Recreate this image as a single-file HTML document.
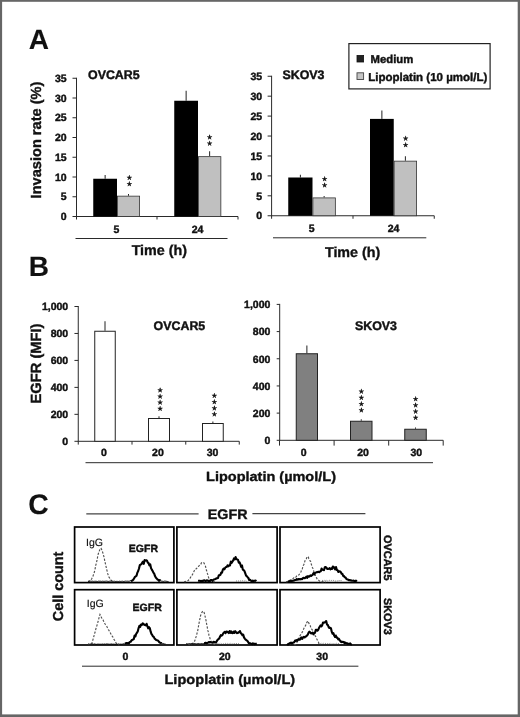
<!DOCTYPE html>
<html lang="en"><head><meta charset="utf-8"><title>Figure</title>
<style>
html,body{margin:0;padding:0;background:#fff;}
svg{display:block;}
text{text-rendering:geometricPrecision;}
</style></head><body>
<svg width="520" height="717" viewBox="0 0 520 717">
<rect x="0" y="0" width="520" height="717" fill="#fff"/>
<text x="28.7" y="49" font-size="28" text-anchor="start" font-family="Liberation Sans, sans-serif" font-weight="bold" fill="#111" stroke="#111" stroke-width="0.12" >A</text>
<text x="28.8" y="276.1" font-size="28" text-anchor="start" font-family="Liberation Sans, sans-serif" font-weight="bold" fill="#111" stroke="#111" stroke-width="0.12" >B</text>
<text x="28.2" y="514" font-size="28.3" text-anchor="start" font-family="Liberation Sans, sans-serif" font-weight="bold" fill="#111" stroke="#111" stroke-width="0.12" >C</text>
<line x1="76.5" y1="77.75" x2="76.5" y2="217.0" stroke="#2a2a2a" stroke-width="1"/>
<line x1="72.5" y1="78.25" x2="76.5" y2="78.25" stroke="#2a2a2a" stroke-width="1"/>
<text x="66.7" y="81.95" font-size="10.5" text-anchor="end" font-family="Liberation Sans, sans-serif" font-weight="bold" fill="#111" stroke="#111" stroke-width="0.42" >35</text>
<line x1="72.5" y1="98.0" x2="76.5" y2="98.0" stroke="#2a2a2a" stroke-width="1"/>
<text x="66.7" y="101.7" font-size="10.5" text-anchor="end" font-family="Liberation Sans, sans-serif" font-weight="bold" fill="#111" stroke="#111" stroke-width="0.42" >30</text>
<line x1="72.5" y1="117.75" x2="76.5" y2="117.75" stroke="#2a2a2a" stroke-width="1"/>
<text x="66.7" y="121.45" font-size="10.5" text-anchor="end" font-family="Liberation Sans, sans-serif" font-weight="bold" fill="#111" stroke="#111" stroke-width="0.42" >25</text>
<line x1="72.5" y1="137.5" x2="76.5" y2="137.5" stroke="#2a2a2a" stroke-width="1"/>
<text x="66.7" y="141.2" font-size="10.5" text-anchor="end" font-family="Liberation Sans, sans-serif" font-weight="bold" fill="#111" stroke="#111" stroke-width="0.42" >20</text>
<line x1="72.5" y1="157.25" x2="76.5" y2="157.25" stroke="#2a2a2a" stroke-width="1"/>
<text x="66.7" y="160.95" font-size="10.5" text-anchor="end" font-family="Liberation Sans, sans-serif" font-weight="bold" fill="#111" stroke="#111" stroke-width="0.42" >15</text>
<line x1="72.5" y1="177.0" x2="76.5" y2="177.0" stroke="#2a2a2a" stroke-width="1"/>
<text x="66.7" y="180.7" font-size="10.5" text-anchor="end" font-family="Liberation Sans, sans-serif" font-weight="bold" fill="#111" stroke="#111" stroke-width="0.42" >10</text>
<line x1="72.5" y1="196.75" x2="76.5" y2="196.75" stroke="#2a2a2a" stroke-width="1"/>
<text x="66.7" y="200.45" font-size="10.5" text-anchor="end" font-family="Liberation Sans, sans-serif" font-weight="bold" fill="#111" stroke="#111" stroke-width="0.42" >5</text>
<line x1="72.5" y1="216.5" x2="76.5" y2="216.5" stroke="#2a2a2a" stroke-width="1"/>
<text x="66.7" y="220.2" font-size="10.5" text-anchor="end" font-family="Liberation Sans, sans-serif" font-weight="bold" fill="#111" stroke="#111" stroke-width="0.42" >0</text>
<line x1="76.5" y1="216.5" x2="238" y2="216.5" stroke="#2a2a2a" stroke-width="1"/>
<line x1="76.5" y1="216.5" x2="76.5" y2="219.5" stroke="#2a2a2a" stroke-width="1"/>
<line x1="157" y1="216.5" x2="157" y2="219.5" stroke="#2a2a2a" stroke-width="1"/>
<line x1="238" y1="216.5" x2="238" y2="219.5" stroke="#2a2a2a" stroke-width="1"/>
<line x1="105.125" y1="175" x2="105.125" y2="178.75" stroke="#222" stroke-width="1"/>
<rect x="93.25" y="178.75" width="23.75" height="37.75" fill="#000"/>
<line x1="128.5" y1="194" x2="128.5" y2="195.75" stroke="#222" stroke-width="1"/>
<rect x="117.4" y="196.15" width="22.2" height="20.35" fill="#c0c0c0" stroke="#333" stroke-width="0.8"/>
<line x1="186.125" y1="90.75" x2="186.125" y2="100.75" stroke="#222" stroke-width="1"/>
<rect x="174.25" y="100.75" width="23.75" height="115.75" fill="#000"/>
<line x1="209.625" y1="151.25" x2="209.625" y2="156.25" stroke="#222" stroke-width="1"/>
<rect x="198.4" y="156.65" width="22.45" height="59.85" fill="#c0c0c0" stroke="#333" stroke-width="0.8"/>
<text x="88" y="78.75" font-size="12.4" text-anchor="start" font-family="Liberation Sans, sans-serif" font-weight="bold" fill="#111" stroke="#111" stroke-width="0.42" >OVCAR5</text>
<text transform="translate(129.3,179.77) rotate(0.2)" font-size="6.4" text-anchor="middle" font-family="DejaVu Sans, sans-serif" fill="#111" stroke="#111" stroke-width="0.35" stroke-linejoin="round">★</text>
<text transform="translate(129.3,186.02) rotate(0.2)" font-size="6.4" text-anchor="middle" font-family="DejaVu Sans, sans-serif" fill="#111" stroke="#111" stroke-width="0.35" stroke-linejoin="round">★</text>
<text transform="translate(209.6,139.27) rotate(0.2)" font-size="6.4" text-anchor="middle" font-family="DejaVu Sans, sans-serif" fill="#111" stroke="#111" stroke-width="0.35" stroke-linejoin="round">★</text>
<text transform="translate(209.6,145.52) rotate(0.2)" font-size="6.4" text-anchor="middle" font-family="DejaVu Sans, sans-serif" fill="#111" stroke="#111" stroke-width="0.35" stroke-linejoin="round">★</text>
<text x="116.5" y="232.5" font-size="10.5" text-anchor="middle" font-family="Liberation Sans, sans-serif" font-weight="bold" fill="#111" stroke="#111" stroke-width="0.42" >5</text>
<text x="197.5" y="232.5" font-size="10.5" text-anchor="middle" font-family="Liberation Sans, sans-serif" font-weight="bold" fill="#111" stroke="#111" stroke-width="0.42" >24</text>
<line x1="75.5" y1="238.5" x2="227.5" y2="238.5" stroke="#2a2a2a" stroke-width="1"/>
<text x="159.3" y="255.3" font-size="14.3" text-anchor="middle" font-family="Liberation Sans, sans-serif" font-weight="bold" fill="#111" stroke="#111" stroke-width="0.36" >Time (h)</text>
<text transform="translate(40.5,140) rotate(-90)" font-size="14.6" text-anchor="middle" font-family="Liberation Sans, sans-serif" font-weight="bold" fill="#111" stroke="#111" stroke-width="0.36">Invasion rate (%)</text>
<line x1="271.6" y1="75.75" x2="271.6" y2="216.25" stroke="#2a2a2a" stroke-width="1"/>
<line x1="267.6" y1="76.25" x2="271.6" y2="76.25" stroke="#2a2a2a" stroke-width="1"/>
<text x="262.2" y="79.95" font-size="10.5" text-anchor="end" font-family="Liberation Sans, sans-serif" font-weight="bold" fill="#111" stroke="#111" stroke-width="0.42" >35</text>
<line x1="267.6" y1="96.17857142857143" x2="271.6" y2="96.17857142857143" stroke="#2a2a2a" stroke-width="1"/>
<text x="262.2" y="99.88" font-size="10.5" text-anchor="end" font-family="Liberation Sans, sans-serif" font-weight="bold" fill="#111" stroke="#111" stroke-width="0.42" >30</text>
<line x1="267.6" y1="116.10714285714286" x2="271.6" y2="116.10714285714286" stroke="#2a2a2a" stroke-width="1"/>
<text x="262.2" y="119.81" font-size="10.5" text-anchor="end" font-family="Liberation Sans, sans-serif" font-weight="bold" fill="#111" stroke="#111" stroke-width="0.42" >25</text>
<line x1="267.6" y1="136.03571428571428" x2="271.6" y2="136.03571428571428" stroke="#2a2a2a" stroke-width="1"/>
<text x="262.2" y="139.74" font-size="10.5" text-anchor="end" font-family="Liberation Sans, sans-serif" font-weight="bold" fill="#111" stroke="#111" stroke-width="0.42" >20</text>
<line x1="267.6" y1="155.96428571428572" x2="271.6" y2="155.96428571428572" stroke="#2a2a2a" stroke-width="1"/>
<text x="262.2" y="159.66" font-size="10.5" text-anchor="end" font-family="Liberation Sans, sans-serif" font-weight="bold" fill="#111" stroke="#111" stroke-width="0.42" >15</text>
<line x1="267.6" y1="175.89285714285714" x2="271.6" y2="175.89285714285714" stroke="#2a2a2a" stroke-width="1"/>
<text x="262.2" y="179.59" font-size="10.5" text-anchor="end" font-family="Liberation Sans, sans-serif" font-weight="bold" fill="#111" stroke="#111" stroke-width="0.42" >10</text>
<line x1="267.6" y1="195.82142857142856" x2="271.6" y2="195.82142857142856" stroke="#2a2a2a" stroke-width="1"/>
<text x="262.2" y="199.52" font-size="10.5" text-anchor="end" font-family="Liberation Sans, sans-serif" font-weight="bold" fill="#111" stroke="#111" stroke-width="0.42" >5</text>
<line x1="267.6" y1="215.75" x2="271.6" y2="215.75" stroke="#2a2a2a" stroke-width="1"/>
<text x="262.2" y="219.45" font-size="10.5" text-anchor="end" font-family="Liberation Sans, sans-serif" font-weight="bold" fill="#111" stroke="#111" stroke-width="0.42" >0</text>
<line x1="271.6" y1="215.75" x2="434.25" y2="215.75" stroke="#2a2a2a" stroke-width="1"/>
<line x1="271.6" y1="215.75" x2="271.6" y2="218.75" stroke="#2a2a2a" stroke-width="1"/>
<line x1="353" y1="215.75" x2="353" y2="218.75" stroke="#2a2a2a" stroke-width="1"/>
<line x1="434.25" y1="215.75" x2="434.25" y2="218.75" stroke="#2a2a2a" stroke-width="1"/>
<line x1="300.375" y1="174.75" x2="300.375" y2="177.5" stroke="#222" stroke-width="1"/>
<rect x="288.25" y="177.5" width="24.25" height="38.25" fill="#000"/>
<line x1="324.125" y1="196" x2="324.125" y2="197.5" stroke="#222" stroke-width="1"/>
<rect x="312.9" y="197.9" width="22.45" height="17.85" fill="#c0c0c0" stroke="#333" stroke-width="0.8"/>
<line x1="381.875" y1="110.5" x2="381.875" y2="118.9" stroke="#222" stroke-width="1"/>
<rect x="370" y="118.9" width="23.75" height="96.85" fill="#000"/>
<line x1="405.375" y1="156.25" x2="405.375" y2="160.75" stroke="#222" stroke-width="1"/>
<rect x="394.15" y="161.15" width="22.45" height="54.6" fill="#c0c0c0" stroke="#333" stroke-width="0.8"/>
<text x="282.5" y="78.75" font-size="12.4" text-anchor="start" font-family="Liberation Sans, sans-serif" font-weight="bold" fill="#111" stroke="#111" stroke-width="0.42" >SKOV3</text>
<text transform="translate(324.6,181.02) rotate(0.2)" font-size="6.4" text-anchor="middle" font-family="DejaVu Sans, sans-serif" fill="#111" stroke="#111" stroke-width="0.35" stroke-linejoin="round">★</text>
<text transform="translate(324.6,187.27) rotate(0.2)" font-size="6.4" text-anchor="middle" font-family="DejaVu Sans, sans-serif" fill="#111" stroke="#111" stroke-width="0.35" stroke-linejoin="round">★</text>
<text transform="translate(405.6,140.52) rotate(0.2)" font-size="6.4" text-anchor="middle" font-family="DejaVu Sans, sans-serif" fill="#111" stroke="#111" stroke-width="0.35" stroke-linejoin="round">★</text>
<text transform="translate(405.6,147.02) rotate(0.2)" font-size="6.4" text-anchor="middle" font-family="DejaVu Sans, sans-serif" fill="#111" stroke="#111" stroke-width="0.35" stroke-linejoin="round">★</text>
<text x="311.75" y="232.4" font-size="10.5" text-anchor="middle" font-family="Liberation Sans, sans-serif" font-weight="bold" fill="#111" stroke="#111" stroke-width="0.42" >5</text>
<text x="393.5" y="232.4" font-size="10.5" text-anchor="middle" font-family="Liberation Sans, sans-serif" font-weight="bold" fill="#111" stroke="#111" stroke-width="0.42" >24</text>
<line x1="273" y1="237.8" x2="426.3" y2="237.8" stroke="#2a2a2a" stroke-width="1"/>
<text x="352.6" y="257" font-size="14.3" text-anchor="middle" font-family="Liberation Sans, sans-serif" font-weight="bold" fill="#111" stroke="#111" stroke-width="0.36" >Time (h)</text>
<rect x="348.9" y="43.6" width="141.2" height="45.3" fill="#fff" stroke="#222" stroke-width="1.2"/>
<rect x="357" y="55.4" width="6.6" height="6.6" fill="#222" stroke="#111" stroke-width="0.8"/>
<rect x="357" y="72.8" width="6.6" height="6.7" fill="#c4c4c4" stroke="#444" stroke-width="0.9"/>
<text x="370.6" y="62.5" font-size="11.3" text-anchor="start" font-family="Liberation Sans, sans-serif" font-weight="bold" fill="#111" stroke="#111" stroke-width="0.42" >Medium</text>
<text x="368.2" y="80.8" font-size="11.5" text-anchor="start" font-family="Liberation Sans, sans-serif" font-weight="bold" fill="#111" stroke="#111" stroke-width="0.42" >Lipoplatin (10 µmol/L)</text>
<line x1="78.25" y1="306.0" x2="78.25" y2="441.8" stroke="#2a2a2a" stroke-width="1"/>
<line x1="74.45" y1="306.5" x2="78.25" y2="306.5" stroke="#2a2a2a" stroke-width="1"/>
<text x="68.2" y="310.3" font-size="10.5" text-anchor="end" font-family="Liberation Sans, sans-serif" font-weight="bold" fill="#111" stroke="#111" stroke-width="0.42" >1,000</text>
<line x1="74.45" y1="333.46" x2="78.25" y2="333.46" stroke="#2a2a2a" stroke-width="1"/>
<text x="68.2" y="337.26" font-size="10.5" text-anchor="end" font-family="Liberation Sans, sans-serif" font-weight="bold" fill="#111" stroke="#111" stroke-width="0.42" >800</text>
<line x1="74.45" y1="360.42" x2="78.25" y2="360.42" stroke="#2a2a2a" stroke-width="1"/>
<text x="68.2" y="364.22" font-size="10.5" text-anchor="end" font-family="Liberation Sans, sans-serif" font-weight="bold" fill="#111" stroke="#111" stroke-width="0.42" >600</text>
<line x1="74.45" y1="387.38" x2="78.25" y2="387.38" stroke="#2a2a2a" stroke-width="1"/>
<text x="68.2" y="391.18" font-size="10.5" text-anchor="end" font-family="Liberation Sans, sans-serif" font-weight="bold" fill="#111" stroke="#111" stroke-width="0.42" >400</text>
<line x1="74.45" y1="414.34000000000003" x2="78.25" y2="414.34000000000003" stroke="#2a2a2a" stroke-width="1"/>
<text x="68.2" y="418.14" font-size="10.5" text-anchor="end" font-family="Liberation Sans, sans-serif" font-weight="bold" fill="#111" stroke="#111" stroke-width="0.42" >200</text>
<line x1="74.45" y1="441.3" x2="78.25" y2="441.3" stroke="#2a2a2a" stroke-width="1"/>
<text x="68.2" y="445.1" font-size="10.5" text-anchor="end" font-family="Liberation Sans, sans-serif" font-weight="bold" fill="#111" stroke="#111" stroke-width="0.42" >0</text>
<line x1="78.25" y1="441.3" x2="239.25" y2="441.3" stroke="#2a2a2a" stroke-width="1"/>
<line x1="78.25" y1="441.3" x2="78.25" y2="444.6" stroke="#2a2a2a" stroke-width="1"/>
<line x1="132" y1="441.3" x2="132" y2="444.6" stroke="#2a2a2a" stroke-width="1"/>
<line x1="185.75" y1="441.3" x2="185.75" y2="444.6" stroke="#2a2a2a" stroke-width="1"/>
<line x1="239.25" y1="441.3" x2="239.25" y2="444.6" stroke="#2a2a2a" stroke-width="1"/>
<line x1="105.0" y1="321.25" x2="105.0" y2="330.75" stroke="#222" stroke-width="1"/>
<rect x="94.75" y="331.25" width="20.5" height="110.05000000000001" fill="#fff" stroke="#222" stroke-width="1"/>
<line x1="159.0" y1="416.3" x2="159.0" y2="418" stroke="#222" stroke-width="1"/>
<rect x="148.5" y="418.5" width="21" height="22.80000000000001" fill="#fff" stroke="#222" stroke-width="1"/>
<line x1="212.875" y1="421.5" x2="212.875" y2="423" stroke="#222" stroke-width="1"/>
<rect x="202.5" y="423.5" width="20.75" height="17.80000000000001" fill="#fff" stroke="#222" stroke-width="1"/>
<text x="153.6" y="330" font-size="12.4" text-anchor="start" font-family="Liberation Sans, sans-serif" font-weight="bold" fill="#111" stroke="#111" stroke-width="0.42" >OVCAR5</text>
<text transform="translate(160,392.27) rotate(0.2)" font-size="6.4" text-anchor="middle" font-family="DejaVu Sans, sans-serif" fill="#111" stroke="#111" stroke-width="0.35" stroke-linejoin="round">★</text>
<text transform="translate(160,398.47) rotate(0.2)" font-size="6.4" text-anchor="middle" font-family="DejaVu Sans, sans-serif" fill="#111" stroke="#111" stroke-width="0.35" stroke-linejoin="round">★</text>
<text transform="translate(160,404.57) rotate(0.2)" font-size="6.4" text-anchor="middle" font-family="DejaVu Sans, sans-serif" fill="#111" stroke="#111" stroke-width="0.35" stroke-linejoin="round">★</text>
<text transform="translate(160,410.67) rotate(0.2)" font-size="6.4" text-anchor="middle" font-family="DejaVu Sans, sans-serif" fill="#111" stroke="#111" stroke-width="0.35" stroke-linejoin="round">★</text>
<text transform="translate(214.3,397.77) rotate(0.2)" font-size="6.4" text-anchor="middle" font-family="DejaVu Sans, sans-serif" fill="#111" stroke="#111" stroke-width="0.35" stroke-linejoin="round">★</text>
<text transform="translate(214.3,403.97) rotate(0.2)" font-size="6.4" text-anchor="middle" font-family="DejaVu Sans, sans-serif" fill="#111" stroke="#111" stroke-width="0.35" stroke-linejoin="round">★</text>
<text transform="translate(214.3,410.17) rotate(0.2)" font-size="6.4" text-anchor="middle" font-family="DejaVu Sans, sans-serif" fill="#111" stroke="#111" stroke-width="0.35" stroke-linejoin="round">★</text>
<text transform="translate(214.3,416.27) rotate(0.2)" font-size="6.4" text-anchor="middle" font-family="DejaVu Sans, sans-serif" fill="#111" stroke="#111" stroke-width="0.35" stroke-linejoin="round">★</text>
<text x="104" y="456" font-size="10.5" text-anchor="middle" font-family="Liberation Sans, sans-serif" font-weight="bold" fill="#111" stroke="#111" stroke-width="0.42" >0</text>
<text x="157.9" y="456" font-size="10.5" text-anchor="middle" font-family="Liberation Sans, sans-serif" font-weight="bold" fill="#111" stroke="#111" stroke-width="0.42" >20</text>
<text x="212.6" y="456" font-size="10.5" text-anchor="middle" font-family="Liberation Sans, sans-serif" font-weight="bold" fill="#111" stroke="#111" stroke-width="0.42" >30</text>
<text transform="translate(40.9,363.5) rotate(-90)" font-size="14.7" text-anchor="middle" font-family="Liberation Sans, sans-serif" font-weight="bold" fill="#111" stroke="#111" stroke-width="0.36">EGFR (MFI)</text>
<line x1="279.7" y1="303.9" x2="279.7" y2="440.8" stroke="#2a2a2a" stroke-width="1"/>
<line x1="276.7" y1="304.4" x2="279.7" y2="304.4" stroke="#2a2a2a" stroke-width="1"/>
<text x="270.4" y="308.2" font-size="10.5" text-anchor="end" font-family="Liberation Sans, sans-serif" font-weight="bold" fill="#111" stroke="#111" stroke-width="0.42" >1,000</text>
<line x1="276.7" y1="331.58" x2="279.7" y2="331.58" stroke="#2a2a2a" stroke-width="1"/>
<text x="270.4" y="335.38" font-size="10.5" text-anchor="end" font-family="Liberation Sans, sans-serif" font-weight="bold" fill="#111" stroke="#111" stroke-width="0.42" >800</text>
<line x1="276.7" y1="358.76" x2="279.7" y2="358.76" stroke="#2a2a2a" stroke-width="1"/>
<text x="270.4" y="362.56" font-size="10.5" text-anchor="end" font-family="Liberation Sans, sans-serif" font-weight="bold" fill="#111" stroke="#111" stroke-width="0.42" >600</text>
<line x1="276.7" y1="385.94" x2="279.7" y2="385.94" stroke="#2a2a2a" stroke-width="1"/>
<text x="270.4" y="389.74" font-size="10.5" text-anchor="end" font-family="Liberation Sans, sans-serif" font-weight="bold" fill="#111" stroke="#111" stroke-width="0.42" >400</text>
<line x1="276.7" y1="413.12" x2="279.7" y2="413.12" stroke="#2a2a2a" stroke-width="1"/>
<text x="270.4" y="416.92" font-size="10.5" text-anchor="end" font-family="Liberation Sans, sans-serif" font-weight="bold" fill="#111" stroke="#111" stroke-width="0.42" >200</text>
<line x1="276.7" y1="440.3" x2="279.7" y2="440.3" stroke="#2a2a2a" stroke-width="1"/>
<text x="270.4" y="444.1" font-size="10.5" text-anchor="end" font-family="Liberation Sans, sans-serif" font-weight="bold" fill="#111" stroke="#111" stroke-width="0.42" >0</text>
<line x1="279.7" y1="440.3" x2="443.2" y2="440.3" stroke="#2a2a2a" stroke-width="1"/>
<line x1="279.5" y1="440.3" x2="279.5" y2="445.6" stroke="#2a2a2a" stroke-width="1"/>
<line x1="334.1" y1="440.3" x2="334.1" y2="445.6" stroke="#2a2a2a" stroke-width="1"/>
<line x1="388.7" y1="440.3" x2="388.7" y2="445.6" stroke="#2a2a2a" stroke-width="1"/>
<line x1="443.2" y1="440.3" x2="443.2" y2="445.6" stroke="#2a2a2a" stroke-width="1"/>
<line x1="306.875" y1="345.5" x2="306.875" y2="353.25" stroke="#222" stroke-width="1"/>
<rect x="296.25" y="353.75" width="21.25" height="86.55000000000001" fill="#808080" stroke="#222" stroke-width="1"/>
<line x1="361.25" y1="419.3" x2="361.25" y2="420.75" stroke="#222" stroke-width="1"/>
<rect x="350.5" y="421.25" width="21.5" height="19.05000000000001" fill="#808080" stroke="#222" stroke-width="1"/>
<line x1="415.5" y1="427.5" x2="415.5" y2="428.75" stroke="#222" stroke-width="1"/>
<rect x="404.75" y="429.25" width="21.5" height="11.050000000000011" fill="#808080" stroke="#222" stroke-width="1"/>
<text x="355" y="330" font-size="12.4" text-anchor="start" font-family="Liberation Sans, sans-serif" font-weight="bold" fill="#111" stroke="#111" stroke-width="0.42" >SKOV3</text>
<text transform="translate(361.3,393.52) rotate(0.2)" font-size="6.4" text-anchor="middle" font-family="DejaVu Sans, sans-serif" fill="#111" stroke="#111" stroke-width="0.35" stroke-linejoin="round">★</text>
<text transform="translate(361.3,399.77) rotate(0.2)" font-size="6.4" text-anchor="middle" font-family="DejaVu Sans, sans-serif" fill="#111" stroke="#111" stroke-width="0.35" stroke-linejoin="round">★</text>
<text transform="translate(361.3,406.02) rotate(0.2)" font-size="6.4" text-anchor="middle" font-family="DejaVu Sans, sans-serif" fill="#111" stroke="#111" stroke-width="0.35" stroke-linejoin="round">★</text>
<text transform="translate(361.3,412.27) rotate(0.2)" font-size="6.4" text-anchor="middle" font-family="DejaVu Sans, sans-serif" fill="#111" stroke="#111" stroke-width="0.35" stroke-linejoin="round">★</text>
<text transform="translate(415.6,401.02) rotate(0.2)" font-size="6.4" text-anchor="middle" font-family="DejaVu Sans, sans-serif" fill="#111" stroke="#111" stroke-width="0.35" stroke-linejoin="round">★</text>
<text transform="translate(415.6,407.27) rotate(0.2)" font-size="6.4" text-anchor="middle" font-family="DejaVu Sans, sans-serif" fill="#111" stroke="#111" stroke-width="0.35" stroke-linejoin="round">★</text>
<text transform="translate(415.6,413.52) rotate(0.2)" font-size="6.4" text-anchor="middle" font-family="DejaVu Sans, sans-serif" fill="#111" stroke="#111" stroke-width="0.35" stroke-linejoin="round">★</text>
<text transform="translate(415.6,419.77) rotate(0.2)" font-size="6.4" text-anchor="middle" font-family="DejaVu Sans, sans-serif" fill="#111" stroke="#111" stroke-width="0.35" stroke-linejoin="round">★</text>
<text x="303.7" y="455.8" font-size="10.5" text-anchor="middle" font-family="Liberation Sans, sans-serif" font-weight="bold" fill="#111" stroke="#111" stroke-width="0.42" >0</text>
<text x="363" y="455.8" font-size="10.5" text-anchor="middle" font-family="Liberation Sans, sans-serif" font-weight="bold" fill="#111" stroke="#111" stroke-width="0.42" >20</text>
<text x="416.3" y="455.8" font-size="10.5" text-anchor="middle" font-family="Liberation Sans, sans-serif" font-weight="bold" fill="#111" stroke="#111" stroke-width="0.42" >30</text>
<line x1="85.5" y1="462.7" x2="433" y2="462.7" stroke="#2a2a2a" stroke-width="1"/>
<text transform="translate(271,481.2) scale(1.09,1)" font-size="13.3" text-anchor="middle" font-family="Liberation Sans, sans-serif" font-weight="bold" fill="#111" stroke="#111" stroke-width="0.36" >Lipoplatin (µmol/L)</text>
<line x1="86.3" y1="513.9" x2="198.6" y2="513.9" stroke="#444" stroke-width="1.2"/>
<line x1="252.4" y1="513.6" x2="365.4" y2="513.6" stroke="#444" stroke-width="1.2"/>
<text transform="translate(227.7,518.7) scale(1.03,1)" font-size="13.9" text-anchor="middle" font-family="Liberation Sans, sans-serif" font-weight="bold" fill="#111" stroke="#111" stroke-width="0.36" >EGFR</text>
<text transform="translate(62.6,586.4) rotate(-90)" font-size="14.4" text-anchor="middle" font-family="Liberation Sans, sans-serif" font-weight="bold" fill="#111" stroke="#111" stroke-width="0.36">Cell count</text>
<rect x="74.6" y="527.0" width="99.3" height="55.59999999999993" fill="#fff" stroke="#000" stroke-width="1.7"/>
<rect x="176.9" y="527.0" width="100.19999999999999" height="55.59999999999993" fill="#fff" stroke="#000" stroke-width="1.7"/>
<rect x="280.0" y="527.0" width="100.1" height="55.59999999999993" fill="#fff" stroke="#000" stroke-width="1.7"/>
<rect x="74.6" y="589.6999999999999" width="99.3" height="55.299999999999976" fill="#fff" stroke="#000" stroke-width="1.7"/>
<rect x="176.9" y="589.6999999999999" width="100.19999999999999" height="55.299999999999976" fill="#fff" stroke="#000" stroke-width="1.7"/>
<rect x="280.0" y="589.6999999999999" width="100.1" height="55.299999999999976" fill="#fff" stroke="#000" stroke-width="1.7"/>
<polyline points="88.0,581.5 88.6,581.4 89.2,581.0 89.8,580.9 90.4,580.2 91.0,579.7 91.6,579.0 92.2,577.7 92.8,576.7 93.4,574.9 94.0,573.3 94.6,571.1 95.2,568.3 95.8,565.2 96.4,563.1 97.0,560.2 97.6,557.0 98.2,554.1 98.8,552.3 99.4,550.7 100.0,548.9 100.6,549.3 101.2,548.6 101.8,549.9 102.4,551.5 103.0,553.4 103.6,555.6 104.2,557.7 104.8,561.2 105.4,563.6 106.0,566.3 106.6,569.2 107.2,571.4 107.8,573.9 108.4,575.7 109.0,577.1 109.6,578.0 110.2,579.1 110.8,579.9 111.4,580.4 112.0,580.9 112.6,581.2 113.2,581.3 113.8,581.5" fill="none" stroke="#505050" stroke-width="1.15" stroke-dasharray="2.2,1.5"/>
<polyline points="88.0,581.4 88.8,581.3 89.6,581.3 90.4,581.2 91.2,581.2 92.0,581.4 92.8,581.1 93.6,581.4 94.4,581.3 95.2,581.2 96.0,581.4 96.8,581.3 97.6,581.5 98.4,581.2 99.2,581.2 100.0,581.3 100.8,581.2 101.6,581.4 102.4,581.2 103.2,581.3 104.0,581.3 104.8,581.3 105.6,581.2 106.4,581.1 107.2,581.3 108.0,581.2 108.8,581.5 109.6,581.2 110.4,581.2 111.2,581.1 112.0,581.2 112.8,581.4 113.6,581.3 114.4,581.2 115.2,581.5 116.0,581.3 116.8,581.4 117.6,581.4 118.4,581.5 119.2,581.2 120.0,581.4 120.8,581.4 121.6,581.3 122.4,581.2 123.2,581.5 124.0,581.3 124.8,581.3 125.6,581.1 126.4,581.2 127.2,581.1 128.0,581.3 128.8,581.2 129.6,581.1 130.4,580.7 131.2,580.4" fill="none" stroke="#000" stroke-width="0.9" stroke-linejoin="round"/>
<polyline points="131.0,581.2 131.8,580.8 132.6,580.3 133.4,579.6 134.2,578.2 135.0,576.8 135.8,576.3 136.6,575.6 137.4,572.6 138.2,571.0 139.0,568.5 139.8,565.2 140.6,564.7 141.4,564.2 142.2,562.7 143.0,561.7 143.8,563.8 144.6,560.1 145.4,560.6 146.2,560.2 147.0,560.6 147.8,562.6 148.6,563.2 149.4,565.3 150.2,564.3 151.0,568.0 151.8,569.6 152.6,570.8 153.4,572.7 154.2,573.7 155.0,576.1 155.8,577.6 156.6,578.4 157.4,579.4 158.2,579.7 159.0,580.8 159.8,580.0 160.6,580.7" fill="none" stroke="#000" stroke-width="2.1" stroke-linejoin="round"/>
<polyline points="160.5,581.0 161.3,581.1 162.1,581.2 162.9,581.3 163.7,581.4 164.5,581.1 165.3,581.1 166.1,581.3 166.9,581.3 167.7,581.5 168.5,581.5" fill="none" stroke="#000" stroke-width="0.9" stroke-linejoin="round"/>
<text x="86" y="545.5" font-size="10.5" text-anchor="start" font-family="Liberation Sans, sans-serif" fill="#111" stroke="#111" stroke-width="0.15">IgG</text>
<text x="128.8" y="552" font-size="10.5" text-anchor="start" font-family="Liberation Sans, sans-serif" font-weight="bold" fill="#111" stroke="#111" stroke-width="0.42" >EGFR</text>
<polyline points="184.0,581.8 184.6,581.7 185.2,581.4 185.8,581.6 186.4,581.5 187.0,580.9 187.6,580.7 188.2,580.5 188.8,579.8 189.4,579.5 190.0,578.4 190.6,577.3 191.2,576.3 191.8,575.4 192.4,574.6 193.0,573.4 193.6,572.5 194.2,570.7 194.8,570.1 195.4,569.0 196.0,568.9 196.6,568.6 197.2,567.3 197.8,566.7 198.4,566.4 199.0,565.9 199.6,565.1 200.2,564.4 200.8,564.2 201.4,562.9 202.0,562.4 202.6,562.4 203.2,562.5 203.8,562.8 204.4,563.9 205.0,565.0 205.6,566.6 206.2,569.5 206.8,571.2 207.4,573.4 208.0,575.4 208.6,577.5 209.2,578.9 209.8,579.9 210.4,580.6 211.0,581.1 211.6,581.3 212.2,581.4 212.8,581.5 213.4,581.7 214.0,581.7 214.6,581.7 215.2,581.8 215.8,581.7" fill="none" stroke="#505050" stroke-width="1.15" stroke-dasharray="2.2,1.5"/>
<polyline points="198.0,580.7 198.8,580.8 199.6,580.8 200.4,581.1 201.2,581.4 202.0,580.7 202.8,581.2 203.6,580.6 204.4,580.3 205.2,581.0 206.0,580.9 206.8,580.2 207.6,580.4 208.4,581.1 209.2,581.1 210.0,581.0 210.8,580.0 211.6,580.0 212.4,580.9 213.2,579.9 214.0,579.5 214.8,579.3 215.6,579.1 216.4,578.2 217.2,578.3 218.0,578.0 218.8,575.2 219.6,575.2 220.4,574.8 221.2,572.6 222.0,572.7 222.8,569.8 223.6,568.5 224.4,569.3 225.2,567.7 226.0,567.0 226.8,566.9 227.6,565.3 228.4,566.3 229.2,565.3 230.0,565.5 230.8,561.6 231.6,562.8 232.4,561.6 233.2,560.4 234.0,558.4 234.8,559.5 235.6,557.1 236.4,559.1 237.2,559.4 238.0,559.9 238.8,562.8 239.6,562.3 240.4,564.4 241.2,566.8 242.0,565.5 242.8,569.6 243.6,570.1 244.4,570.9 245.2,573.2 246.0,575.4 246.8,576.2 247.6,577.2 248.4,578.0 249.2,580.0 250.0,579.7 250.8,580.6 251.6,581.0 252.4,580.6 253.2,581.0 254.0,580.9 254.8,580.8 255.6,580.6 256.4,581.2" fill="none" stroke="#000" stroke-width="2.1" stroke-linejoin="round"/>
<polyline points="236.0,580.9 236.7,581.0 237.4,581.0 238.1,580.9 238.8,581.0 239.5,581.0 240.2,581.0 240.9,580.7 241.6,580.9 242.3,580.8 243.0,580.7 243.7,581.1 244.4,581.0 245.1,580.7 245.8,580.8 246.5,581.2" fill="none" stroke="#444" stroke-width="0.7" stroke-dasharray="1,1"/>
<polyline points="286.0,581.8 286.6,581.6 287.2,581.6 287.8,581.4 288.4,581.3 289.0,580.9 289.6,580.6 290.2,580.2 290.8,580.2 291.4,579.6 292.0,579.2 292.6,579.1 293.2,578.3 293.8,577.8 294.4,577.9 295.0,577.1 295.6,577.1 296.2,576.7 296.8,576.0 297.4,575.8 298.0,575.9 298.6,575.2 299.2,574.4 299.8,573.8 300.4,573.0 301.0,571.7 301.6,569.8 302.2,569.3 302.8,566.9 303.4,565.3 304.0,564.2 304.6,562.1 305.2,560.2 305.8,559.1 306.4,558.7 307.0,556.8 307.6,556.9 308.2,556.8 308.8,558.5 309.4,559.2 310.0,560.8 310.6,561.3 311.2,563.8 311.8,565.8 312.4,567.4 313.0,568.6 313.6,570.6 314.2,573.0 314.8,574.7 315.4,575.4 316.0,576.9 316.6,577.9 317.2,579.1 317.8,579.8 318.4,580.1 319.0,580.6 319.6,581.1 320.2,581.0 320.8,581.3 321.4,581.4 322.0,581.8 322.6,581.5 323.2,581.8 323.8,581.6 324.4,581.8 325.0,581.8 325.6,581.8" fill="none" stroke="#505050" stroke-width="1.15" stroke-dasharray="2.2,1.5"/>
<polyline points="288.0,580.8 288.8,581.3 289.6,581.3 290.4,580.7 291.2,580.9 292.0,580.9 292.8,580.7 293.6,580.7 294.4,580.3 295.2,580.0 296.0,579.9 296.8,579.1 297.6,579.6 298.4,579.1 299.2,579.4 300.0,579.0 300.8,579.4 301.6,578.9 302.4,579.1 303.2,577.7 304.0,577.9 304.8,578.3 305.6,577.6 306.4,576.5 307.2,577.8 308.0,576.2 308.8,576.8 309.6,576.4 310.4,575.4 311.2,575.9 312.0,575.2 312.8,574.4 313.6,573.2 314.4,574.4 315.2,572.7 316.0,572.5 316.8,572.1 317.6,572.1 318.4,571.7 319.2,572.2 320.0,571.5 320.8,571.3 321.6,568.5 322.4,569.8 323.2,570.0 324.0,570.1 324.8,567.3 325.6,567.0 326.4,567.6 327.2,568.9 328.0,569.0 328.8,568.8 329.6,568.2 330.4,569.3 331.2,568.3 332.0,569.0 332.8,566.6 333.6,566.7 334.4,568.3 335.2,569.5 336.0,567.1 336.8,569.9 337.6,570.2 338.4,572.0 339.2,571.2 340.0,571.4 340.8,572.1 341.6,573.8 342.4,573.8 343.2,575.9 344.0,576.1 344.8,577.3 345.6,577.5 346.4,578.9 347.2,579.4 348.0,579.6 348.8,580.2 349.6,580.1 350.4,580.4 351.2,580.4 352.0,580.7 352.8,580.7 353.6,580.6 354.4,581.2 355.2,581.3 356.0,580.6 356.8,581.6" fill="none" stroke="#000" stroke-width="2.1" stroke-linejoin="round"/>
<polyline points="322.0,580.4 322.7,580.5 323.4,581.0 324.1,580.3 324.8,580.3 325.5,580.5 326.2,580.4 326.9,580.3 327.6,580.9 328.3,580.6 329.0,580.6 329.7,580.3 330.4,580.4 331.1,580.3 331.8,580.5 332.5,580.3 333.2,580.5 333.9,580.4 334.6,580.8 335.3,581.0 336.0,580.9 336.7,580.7 337.4,580.9 338.1,580.3 338.8,580.6 339.5,580.5 340.2,580.5 340.9,580.5 341.6,580.6" fill="none" stroke="#444" stroke-width="0.7" stroke-dasharray="1,1"/>
<polyline points="88.0,644.6 88.6,644.5 89.2,644.5 89.8,644.6 90.4,644.6 91.0,644.6 91.6,644.3 92.2,642.1 92.8,640.1 93.4,638.1 94.0,635.9 94.6,633.5 95.2,631.8 95.8,629.2 96.4,626.9 97.0,625.2 97.6,623.2 98.2,621.0 98.8,618.7 99.4,616.5 100.0,614.5 100.6,615.5 101.2,617.1 101.8,618.1 102.4,619.0 103.0,619.7 103.6,621.1 104.2,622.0 104.8,623.5 105.4,624.5 106.0,625.4 106.6,626.1 107.2,627.2 107.8,628.2 108.4,629.6 109.0,630.5 109.6,631.6 110.2,632.6 110.8,633.9 111.4,634.4 112.0,636.0 112.6,636.5 113.2,637.7 113.8,639.2 114.4,640.0 115.0,640.9 115.6,642.0 116.2,643.2 116.8,644.3 117.4,644.6 118.0,644.5 118.6,644.6 119.2,644.6 119.8,644.6" fill="none" stroke="#505050" stroke-width="1.15" stroke-dasharray="2.2,1.5"/>
<polyline points="88.0,644.1 88.8,643.9 89.6,644.2 90.4,644.0 91.2,644.1 92.0,643.9 92.8,644.0 93.6,644.2 94.4,643.9 95.2,644.1 96.0,644.3 96.8,644.3 97.6,644.1 98.4,644.1 99.2,644.2 100.0,644.2 100.8,644.2 101.6,644.2 102.4,644.0 103.2,644.3 104.0,644.0 104.8,644.0 105.6,644.2 106.4,643.9 107.2,644.0 108.0,643.9 108.8,644.2 109.6,644.2 110.4,644.1 111.2,643.9 112.0,644.1 112.8,644.2 113.6,644.1 114.4,644.2 115.2,644.3 116.0,644.3 116.8,644.0 117.6,644.2 118.4,643.9 119.2,644.2 120.0,644.2 120.8,644.1 121.6,644.2 122.4,644.1 123.2,643.8 124.0,643.8 124.8,643.8" fill="none" stroke="#000" stroke-width="0.9" stroke-linejoin="round"/>
<polyline points="125.0,643.7 125.8,643.3 126.6,643.1 127.4,643.3 128.2,642.8 129.0,643.3 129.8,642.0 130.6,641.8 131.4,640.6 132.2,639.9 133.0,639.6 133.8,639.1 134.6,635.6 135.4,636.4 136.2,633.8 137.0,632.7 137.8,631.2 138.6,628.1 139.4,625.8 140.2,627.0 141.0,624.5 141.8,624.9 142.6,623.4 143.4,623.8 144.2,624.7 145.0,625.0 145.8,625.4 146.6,623.8 147.4,626.2 148.2,628.3 149.0,627.1 149.8,628.1 150.6,631.4 151.4,633.8 152.2,634.9 153.0,636.4 153.8,636.9 154.6,638.6 155.4,639.2 156.2,640.0 157.0,640.2 157.8,640.4 158.6,641.3 159.4,642.3 160.2,642.7 161.0,642.9 161.8,643.4" fill="none" stroke="#000" stroke-width="2.1" stroke-linejoin="round"/>
<polyline points="161.5,643.2 162.3,643.5 163.1,643.6 163.9,643.5 164.7,644.0 165.5,643.9" fill="none" stroke="#000" stroke-width="0.9" stroke-linejoin="round"/>
<text x="86.8" y="607.2" font-size="10.5" text-anchor="start" font-family="Liberation Sans, sans-serif" fill="#111" stroke="#111" stroke-width="0.15">IgG</text>
<text x="132.6" y="611.2" font-size="10.5" text-anchor="start" font-family="Liberation Sans, sans-serif" font-weight="bold" fill="#111" stroke="#111" stroke-width="0.42" >EGFR</text>
<polyline points="188.0,644.5 188.6,644.5 189.2,644.6 189.8,644.5 190.4,644.5 191.0,644.3 191.6,644.1 192.2,643.6 192.8,643.2 193.4,642.6 194.0,642.2 194.6,641.2 195.2,639.5 195.8,637.6 196.4,635.9 197.0,633.4 197.6,631.4 198.2,628.0 198.8,624.3 199.4,621.3 200.0,618.3 200.6,615.5 201.2,614.1 201.8,612.6 202.4,611.6 203.0,611.1 203.6,611.6 204.2,612.7 204.8,615.0 205.4,617.6 206.0,620.4 206.6,623.8 207.2,626.8 207.8,630.4 208.4,632.3 209.0,635.4 209.6,637.0 210.2,639.0 210.8,640.6 211.4,641.8 212.0,642.6 212.6,643.1 213.2,643.6 213.8,644.1 214.4,644.3 215.0,644.3 215.6,644.4" fill="none" stroke="#505050" stroke-width="1.15" stroke-dasharray="2.2,1.5"/>
<polyline points="204.0,643.0 204.8,643.1 205.6,642.7 206.4,643.2 207.2,642.9 208.0,642.7 208.8,642.1 209.6,642.4 210.4,642.1 211.2,642.4 212.0,642.6 212.8,642.6 213.6,641.8 214.4,642.0 215.2,642.4 216.0,642.6 216.8,641.1 217.6,639.8 218.4,639.2 219.2,638.5 220.0,636.7 220.8,635.1 221.6,635.6 222.4,635.1 223.2,633.4 224.0,632.5 224.8,631.8 225.6,633.1 226.4,631.5 227.2,631.7 228.0,632.3 228.8,633.1 229.6,631.0 230.4,632.8 231.2,631.4 232.0,633.0 232.8,633.1 233.6,631.6 234.4,632.9 235.2,631.1 236.0,632.3 236.8,633.1 237.6,633.0 238.4,632.5 239.2,631.9 240.0,631.1 240.8,633.3 241.6,633.7 242.4,635.2 243.2,634.6 244.0,637.4 244.8,638.6 245.6,639.6 246.4,640.2 247.2,640.6 248.0,641.8 248.8,643.1 249.6,643.4 250.4,643.4 251.2,643.9 252.0,644.1 252.8,643.4 253.6,643.6 254.4,644.2 255.2,643.7 256.0,643.9 256.8,643.9" fill="none" stroke="#000" stroke-width="2.1" stroke-linejoin="round"/>
<polyline points="186.0,643.8 186.8,643.8 187.6,643.9 188.4,643.8 189.2,643.8 190.0,643.5 190.8,643.9 191.6,643.5 192.4,643.8 193.2,643.8 194.0,643.6 194.8,643.6 195.6,643.7 196.4,643.9 197.2,643.7 198.0,643.8 198.8,643.5 199.6,643.8 200.4,643.8 201.2,643.5 202.0,643.9 202.8,643.7 203.6,643.6 204.4,643.6" fill="none" stroke="#000" stroke-width="1.0" stroke-linejoin="round"/>
<polyline points="214.0,644.0 214.7,644.0 215.4,644.0 216.1,643.4 216.8,643.9 217.5,643.5 218.2,643.4 218.9,643.8 219.6,643.9 220.3,643.4 221.0,643.6 221.7,643.9 222.4,643.6 223.1,643.8 223.8,643.9 224.5,644.0 225.2,643.5 225.9,643.4 226.6,643.6 227.3,643.4 228.0,644.0 228.7,643.9 229.4,643.7 230.1,643.4 230.8,643.4 231.5,643.8 232.2,643.9 232.9,643.7 233.6,643.7 234.3,643.4 235.0,643.9 235.7,643.5 236.4,643.5 237.1,643.5 237.8,643.5 238.5,643.6 239.2,643.8 239.9,643.8" fill="none" stroke="#444" stroke-width="0.7" stroke-dasharray="1,1"/>
<polyline points="294.0,644.6 294.6,644.5 295.2,644.6 295.8,644.5 296.4,643.1 297.0,642.2 297.6,641.1 298.2,640.0 298.8,638.5 299.4,637.5 300.0,635.8 300.6,634.7 301.2,633.3 301.8,632.9 302.4,631.9 303.0,630.7 303.6,629.1 304.2,627.7 304.8,626.8 305.4,625.9 306.0,624.5 306.6,623.1 307.2,621.9 307.8,621.0 308.4,622.1 309.0,623.5 309.6,625.2 310.2,625.6 310.8,627.4 311.4,628.3 312.0,629.7 312.6,630.4 313.2,632.2 313.8,633.3 314.4,634.5 315.0,635.7 315.6,636.3 316.2,637.7 316.8,639.0 317.4,640.2 318.0,641.0 318.6,642.4 319.2,643.7 319.8,644.5 320.4,644.6" fill="none" stroke="#505050" stroke-width="1.15" stroke-dasharray="2.2,1.5"/>
<polyline points="287.0,643.7 287.8,644.5 288.6,644.0 289.4,643.4 290.2,643.0 291.0,642.6 291.8,643.4 292.6,642.7 293.4,642.6 294.2,642.2 295.0,640.7 295.8,641.0 296.6,640.0 297.4,640.6 298.2,639.3 299.0,639.7 299.8,639.7 300.6,638.2 301.4,637.4 302.2,638.9 303.0,637.4 303.8,636.9 304.6,637.5 305.4,636.6 306.2,636.4 307.0,635.5 307.8,634.6 308.6,632.7 309.4,631.7 310.2,632.4 311.0,633.5 311.8,633.2 312.6,632.7 313.4,634.3 314.2,633.1 315.0,632.7 315.8,629.8 316.6,629.9 317.4,630.7 318.2,629.8 319.0,627.9 319.8,626.5 320.6,625.4 321.4,626.4 322.2,625.3 323.0,622.6 323.8,622.8 324.6,622.4 325.4,622.0 326.2,621.0 327.0,624.5 327.8,624.9 328.6,627.0 329.4,628.0 330.2,627.7 331.0,628.4 331.8,631.9 332.6,633.7 333.4,633.1 334.2,635.6 335.0,637.0 335.8,635.5 336.6,637.6 337.4,637.6 338.2,639.3 339.0,638.9 339.8,640.3 340.6,641.4 341.4,642.1 342.2,641.8 343.0,642.1 343.8,641.9 344.6,643.2 345.4,642.6 346.2,643.1 347.0,643.2 347.8,643.8 348.6,643.8 349.4,643.7 350.2,643.4 351.0,644.4 351.8,644.1" fill="none" stroke="#000" stroke-width="2.1" stroke-linejoin="round"/>
<polyline points="318.0,643.4 318.7,643.3 319.4,643.8 320.1,643.9 320.8,643.3 321.5,643.3 322.2,643.6 322.9,643.9 323.6,643.3 324.3,643.7 325.0,643.3 325.7,643.5 326.4,643.4 327.1,643.8 327.8,643.4 328.5,643.8 329.2,643.7 329.9,643.4 330.6,643.4 331.3,643.8 332.0,643.8 332.7,643.7 333.4,643.6 334.1,643.7 334.8,643.9 335.5,643.8 336.2,643.4 336.9,643.3 337.6,643.9 338.3,643.6 339.0,643.4 339.7,643.9" fill="none" stroke="#444" stroke-width="0.7" stroke-dasharray="1,1"/>
<text transform="translate(383.8,557.8) rotate(90)" font-size="10.9" text-anchor="middle" font-family="Liberation Sans, sans-serif" font-weight="bold" fill="#111" stroke="#111" stroke-width="0.42">OVCAR5</text>
<text transform="translate(383.8,616.4) rotate(90)" font-size="10.9" text-anchor="middle" font-family="Liberation Sans, sans-serif" font-weight="bold" fill="#111" stroke="#111" stroke-width="0.42">SKOV3</text>
<text x="125.3" y="660.3" font-size="10.5" text-anchor="middle" font-family="Liberation Sans, sans-serif" font-weight="bold" fill="#111" stroke="#111" stroke-width="0.42" >0</text>
<text x="224.8" y="660.3" font-size="10.5" text-anchor="middle" font-family="Liberation Sans, sans-serif" font-weight="bold" fill="#111" stroke="#111" stroke-width="0.42" >20</text>
<text x="322.2" y="660.3" font-size="10.5" text-anchor="middle" font-family="Liberation Sans, sans-serif" font-weight="bold" fill="#111" stroke="#111" stroke-width="0.42" >30</text>
<line x1="82" y1="666.2" x2="358.4" y2="666.2" stroke="#2a2a2a" stroke-width="1"/>
<text transform="translate(229.8,684.2) scale(1.08,1)" font-size="13.5" text-anchor="middle" font-family="Liberation Sans, sans-serif" font-weight="bold" fill="#111" stroke="#111" stroke-width="0.36" >Lipoplatin (µmol/L)</text>
<rect x="0" y="0" width="2.1" height="717" fill="#666"/>
<rect x="0" y="0" width="520" height="1.8" fill="#666"/>
<rect x="517.7" y="0" width="2.3" height="717" fill="#666"/>
<rect x="0" y="714.4" width="520" height="2.6" fill="#666"/>
</svg>
</body></html>
